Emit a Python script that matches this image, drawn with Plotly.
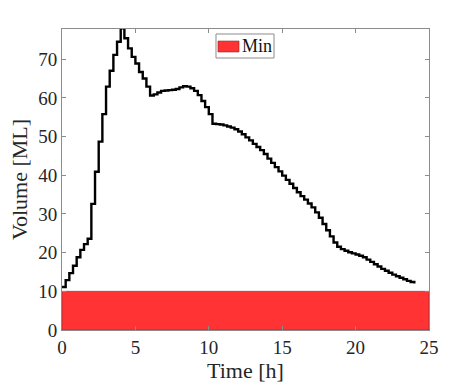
import plotly.graph_objects as go

# Data (stairs, 0.25 h steps)
time_h = [i * 0.25 for i in range(97)]
volume_ml = [
    11.1, 12.9, 14.7, 16.6, 18.8, 20.7, 22.2, 23.6,
    32.6, 40.9, 48.7, 55.8, 62.9, 67.0, 71.1, 74.5,
    78.0, 75.4, 72.8, 70.6, 68.9, 66.7, 65.0, 62.9,
    60.6, 60.9, 61.4, 61.8, 61.9, 62.0, 62.1, 62.3,
    62.7, 63.0, 62.9, 62.5, 61.8, 60.7, 59.2, 57.6,
    55.8, 53.3, 53.2, 53.1, 52.9, 52.6, 52.3, 51.9,
    51.3, 50.6, 49.8, 49.0, 48.1, 47.3, 46.5, 45.5,
    44.3, 43.2, 42.1, 41.0, 39.9, 38.8, 37.8, 36.7,
    35.6, 34.6, 33.7, 32.7, 31.7, 30.4, 29.0, 27.4,
    25.8, 24.2, 22.6, 21.5, 20.9, 20.5, 20.1, 19.8,
    19.5, 19.2, 18.8, 18.2, 17.6, 17.0, 16.4, 15.8,
    15.3, 14.8, 14.3, 13.9, 13.5, 13.1, 12.7, 12.4,
    12.0,
]
min_volume = 10
time_span = [0, 25]
x_ticks = [0, 5, 10, 15, 20, 25]
y_ticks = [0, 10, 20, 30, 40, 50, 60, 70]
legend_label = "Min"

red = "#FF3333"
fig = go.Figure()

# Minimum-volume band
fig.add_trace(go.Scatter(
    x=[time_span[0], time_span[1], time_span[1], time_span[0], time_span[0]],
    y=[0, 0, min_volume, min_volume, 0],
    fill="toself", fillcolor=red, mode="lines",
    line=dict(color="#8a2a2a", width=0.6),
    name=legend_label, showlegend=False, hoverinfo="skip",
))

fig.add_trace(go.Scatter(
    x=time_h, y=volume_ml, mode="lines", line_shape="hv",
    line=dict(color="black", width=2.4), showlegend=False,
))

font_family = "Liberation Serif"
axis_common = dict(
    showline=True, linecolor="#8c8c8c", linewidth=1, mirror="ticks",
    ticks="inside", ticklen=4, tickcolor="#8c8c8c", showgrid=False,
    zeroline=False, tickfont=dict(family=font_family, size=19, color="#262626"),
)

# Manual legend box (MATLAB style)
fig.add_shape(type="rect", xref="paper", yref="paper",
              x0=0.4196, x1=0.5777, y0=0.9037, y1=0.9834,
              line=dict(color="#8c8c8c", width=1), fillcolor="white", layer="above")
fig.add_shape(type="rect", xref="paper", yref="paper",
              x0=0.425, x1=0.4823, y0=0.9236, y1=0.960,
              line=dict(color="#8a2a2a", width=0.6), fillcolor=red, layer="above")
fig.add_annotation(xref="paper", yref="paper", x=0.484, y=0.9435,
                   xanchor="left", yanchor="middle", showarrow=False,
                   text=legend_label,
                   font=dict(family=font_family, size=18, color="#111111"))

fig.update_layout(
    width=474, height=386,
    margin=dict(l=62, r=45, t=29, b=56),
    paper_bgcolor="white", plot_bgcolor="white",
    xaxis=dict(range=time_span, tickvals=x_ticks, **axis_common,
               title=dict(text="Time [h]", font=dict(family=font_family, size=22, color="#262626"), standoff=2)),
    yaxis=dict(range=[0, 77.8], tickvals=y_ticks, **axis_common,
               title=dict(text="Volume [ML]", font=dict(family=font_family, size=22, color="#262626"), standoff=4)),
    showlegend=False,
)

fig.write_html("out.html", config={"displayModeBar": False},
               post_script="document.body.style.margin='0';")
